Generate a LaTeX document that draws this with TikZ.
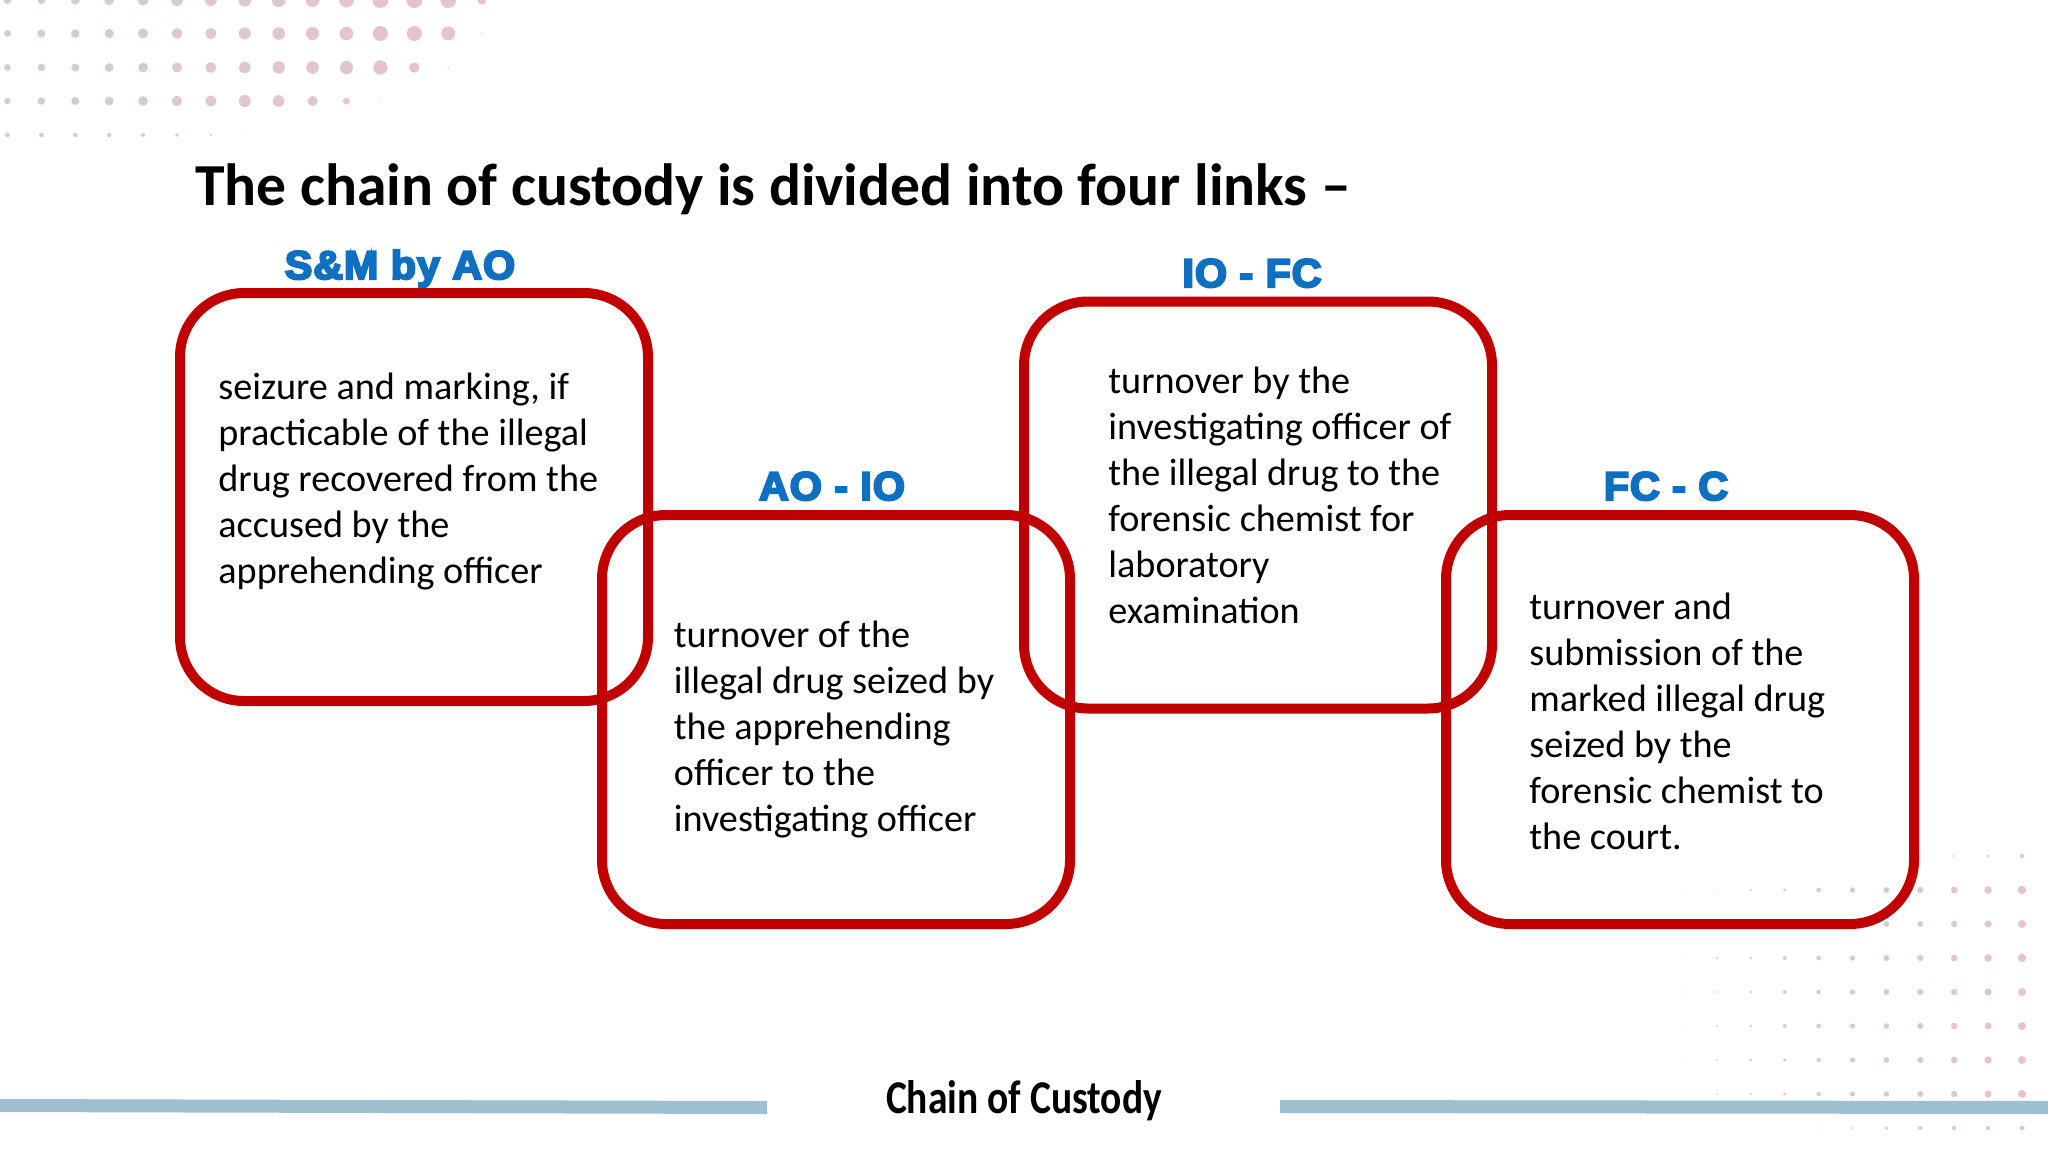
\documentclass[tikz,border=0pt]{standalone}
\usepackage{fontspec}
\setmainfont{Carlito}
\newfontfamily\headfont[FakeBold=5.5,FakeStretch=1.03,LetterSpace=2.5]{Liberation Sans Bold}
\newfontfamily\footfont[FakeStretch=0.84]{Carlito Bold}
\definecolor{boxred}{HTML}{C00000}
\definecolor{headblue}{HTML}{0F6FC0}
\definecolor{barblue}{HTML}{9DBFCF}
\definecolor{dotgray}{HTML}{D2CDCF}
\definecolor{dotpink}{HTML}{E8C2CC}
\tikzset{
  linkbox/.style={draw=boxred,line width=5pt,rounded corners=32pt,minimum width=234pt,inner sep=0pt},
  bodytext/.style={anchor=north west,inner sep=0pt,align=left,font=\fontsize{19.1}{23}\selectfont,text=black},
  headtext/.style={anchor=base,inner sep=0pt,font=\headfont\fontsize{20}{24}\selectfont,text=headblue},
  bar/.style={fill=barblue,draw=none}
}
\newcommand{\fl}{\rule{0pt}{15pt}}
\begin{document}
\begin{tikzpicture}[x=0.5pt,y=-0.5pt]
\useasboundingbox (0,0) rectangle (2048,1152);
\begin{scope}
\clip (0,0) rectangle (2048,1152);
% top-left dots: rows of diameters
\newcommand{\dotrowL}[2]{%
  \foreach \d [count=\i from 0] in {#2} {%
    \pgfmathsetmacro{\mixv}{min(100,\i*8)}%
    \fill[dotpink!\mixv!dotgray] ({7.5+33.9*\i},#1) circle[radius=\d];
  }}
\dotrowL{0}{4,4,4.5,5,5.5,6,6,6.5,7,7,7.5,8,8,8,4.5}
\dotrowL{33.5}{3.5,4,4.3,4.6,5,5.3,5.6,6,6.3,6.6,6.8,7.5,7.5,7,0.8}
\dotrowL{67.5}{3.5,3.8,4,4.4,4.8,5,5.4,5.8,6.2,6.3,6.6,7.2,5.2,0.8}
\dotrowL{101}{3.3,3.7,4,4.4,4.8,5.2,5.6,6,5.8,5,3.5,0.7}
\dotrowL{135}{2.4,2.4,2.2,2.2,2,1.8,1.3,0.5}
% bottom-right dots: listed from the right edge
\newcommand{\dotrowR}[2]{%
  \foreach \d [count=\i from 0] in {#2} {%
    \pgfmathsetmacro{\mixv}{max(0,100-\i*22)}%
    \fill[dotpink!\mixv!dotgray] ({2022-33.9*\i},#1) circle[radius=\d];
  }}
\dotrowR{856}{2.2,1.5,1.2,0.8,0.4}
\dotrowR{890}{4.2,3.8,3.4,3.2,3,2.7,2.3,1.6,1.2,0.8,0.3}
\dotrowR{924}{4,3.6,3.2,3,2.8,2.6}
\dotrowR{958}{4.2,3.8,3.4,3.2,3,2.6,2.3,2,1.5,1.1,0.7,0.3}
\dotrowR{992}{4,3.6,3.3,3.2,3,2.6,2.3,2,1.4,1,0.7,0.3}
\dotrowR{1026}{4,3.6,3.3,3.1,2.8,2.6,2.3,2,1.4,1,0.7,0.3}
\dotrowR{1060}{4,3.6,3.3,3.1,2.8,2.6,2.2,1.8,1.4,1,0.7,0.3}
\dotrowR{1094}{4,3.6,3.2,3.1,2.8,2.6,2.2,1.6,1.2,0.9,0.5}
\dotrowR{1128}{2.4,2.2,2.2,2,1.8,1.2,0.6,0.3}
\end{scope}
% bars
\fill[bar] (0,1099) -- (767,1101) -- (767,1114) -- (0,1112) -- cycle;
\fill[bar] (1280,1100) -- (2048,1101) -- (2048,1114) -- (1280,1113) -- cycle;
% boxes
\node[linkbox,minimum height=204pt] (boxa) at (414,497) {};
\node[linkbox,minimum height=204.5pt] (boxb) at (836,719.5) {};
\node[linkbox,minimum height=203.5pt] (boxc) at (1258,505) {};
\node[linkbox,minimum height=204.5pt] (boxd) at (1680,719.5) {};
% title
\node[anchor=base west,inner sep=0pt,font=\bfseries\fontsize{29.8}{34}\selectfont] (title) at (195,205) {The chain of custody is divided into four links –};
% headings
\node[headtext] (heada) at (400,279) {S\&M by AO};
\node[headtext] (headb) at (832,500) {AO - IO};
\node[headtext] (headc) at (1252,287) {IO - FC};
\node[headtext] (headd) at (1666,500) {FC - C};
% body
\node[bodytext] (texta) at (218,369.5) {\fl seizure and marking, if\\practicable of the illegal\\drug recovered from the\\accused by the\\apprehending officer};
\node[bodytext] (textb) at (673.5,617.5) {\fl turnover of the\\illegal drug seized by\\the apprehending\\officer to the\\investigating officer};
\node[bodytext] (textc) at (1108,363.5) {\fl turnover by the\\investigating officer of\\the illegal drug to the\\forensic chemist for\\laboratory\\examination};
\node[bodytext] (textd) at (1529,589.5) {\fl turnover and\\submission of the\\marked illegal drug\\seized by the\\forensic chemist to\\the court.};
% footer
\node[anchor=base,inner sep=0pt,font=\footfont\fontsize{23.5}{26}\selectfont] (foot) at (1024,1113) {Chain of Custody};
\end{tikzpicture}
\end{document}
